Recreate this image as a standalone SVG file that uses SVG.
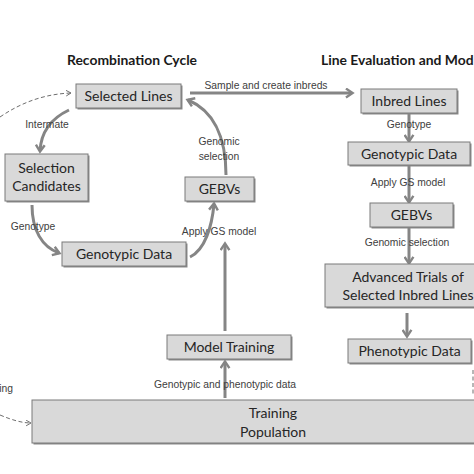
<svg xmlns="http://www.w3.org/2000/svg" width="474" height="474" viewBox="0 0 474 474">
<style>
.box{fill:#d9d9d9;stroke:#7a7a7a;stroke-width:1}
.sh{fill:#8a8a8a}
.bt{font-family:Lato,"Liberation Sans",sans-serif;font-size:14px;fill:#262626;text-anchor:middle}
.lb{font-family:"Liberation Sans",Arial,sans-serif;font-size:10.3px;fill:#404040;text-anchor:middle}
.tt{font-family:Lato,"Liberation Sans",sans-serif;font-size:13.9px;font-weight:bold;fill:#1a1a1a}
.ar{fill:none;stroke:#858585;stroke-width:3}
.da{fill:none;stroke:#6e6e6e;stroke-width:1;stroke-dasharray:4 2.5}
</style>
<defs>
<marker id="ah" viewBox="0 0 10 10" refX="7" refY="5" markerWidth="11" markerHeight="11" markerUnits="userSpaceOnUse" orient="auto">
<path d="M1.5,1 L7.5,5 L1.5,9" fill="none" stroke="#858585" stroke-width="2.2"/>
</marker>
<marker id="dh" viewBox="0 0 10 10" refX="8" refY="5" markerWidth="7" markerHeight="7" markerUnits="userSpaceOnUse" orient="auto">
<path d="M1,1 L8,5 L1,9" fill="none" stroke="#6e6e6e" stroke-width="1.4"/>
</marker>
</defs>
<rect width="474" height="474" fill="#ffffff"/>
<text class="tt" x="132" y="65" text-anchor="middle">Recombination Cycle</text>
<text class="tt" x="321" y="65" font-size="13.6">Line Evaluation and Mod</text>

<g id="connectors">
<path class="da" d="M0,117 C22,102 45,94 71,93" marker-end="url(#dh)"/>
<path class="da" d="M0,415 C12,420 22,423 31,423" marker-end="url(#dh)"/>
<path class="da" d="M473,370 L473,396"/>
<path class="ar" d="M69,110 C52,118 41,132 40,151" marker-end="url(#ah)"/>
<path class="ar" d="M32,205 C32,230 42,247 59,253" marker-end="url(#ah)"/>
<path class="ar" d="M190,257 C205,250 212,226 214,204" marker-end="url(#ah)"/>
<path class="ar" d="M226,175 C226,135 212,110 188,100" marker-end="url(#ah)"/>
<path class="ar" d="M190,93 L352,93" marker-end="url(#ah)"/>
<path class="ar" d="M225,331 L225,244" marker-end="url(#ah)"/>
<path class="ar" d="M225,398 L225,362" marker-end="url(#ah)"/>
<path class="ar" d="M409,114 L409,141" marker-end="url(#ah)"/>
<path class="ar" d="M409,166 L409,202" marker-end="url(#ah)"/>
<path class="ar" d="M409,228 L409,263" marker-end="url(#ah)"/>
<path class="ar" d="M407,313 L407,336" marker-end="url(#ah)"/>
<text class="lb" x="266" y="89">Sample and create inbreds</text>
<text class="lb" x="47" y="128">Intermate</text>
<text class="lb" x="33" y="230">Genotype</text>
<text class="lb" x="219" y="235">Apply GS model</text>
<text class="lb" x="219" y="145">Genomic</text>
<text class="lb" x="219" y="160">selection</text>
<text class="lb" x="409" y="128">Genotype</text>
<text class="lb" x="408" y="186">Apply GS model</text>
<text class="lb" x="407" y="246">Genomic selection</text>
<text class="lb" x="225" y="388">Genotypic and phenotypic data</text>
<text class="lb" x="6" y="392">ing</text>
</g>

<g id="selected-lines">
<rect class="sh" x="77.5" y="85.5" width="105" height="24"/>
<rect class="box" x="76" y="84" width="105" height="24"/>
<text class="bt" x="128.5" y="101">Selected Lines</text>
</g>
<g id="selection-candidates">
<rect class="sh" x="6.5" y="155.5" width="83" height="47"/>
<rect class="box" x="5" y="154" width="83" height="47"/>
<text class="bt" x="46.5" y="173">Selection</text>
<text class="bt" x="46.5" y="191">Candidates</text>
</g>
<g id="genotypic-data-1">
<rect class="sh" x="63.5" y="243.5" width="124" height="24"/>
<rect class="box" x="62" y="242" width="124" height="24"/>
<text class="bt" x="124" y="259">Genotypic Data</text>
</g>
<g id="gebvs-1">
<rect class="sh" x="186.5" y="178.5" width="69" height="24"/>
<rect class="box" x="185" y="177" width="69" height="24"/>
<text class="bt" x="219.5" y="194">GEBVs</text>
</g>
<g id="model-training">
<rect class="sh" x="168.5" y="336.5" width="124" height="24"/>
<rect class="box" x="167" y="335" width="124" height="24"/>
<text class="bt" x="229" y="352">Model Training</text>
</g>
<g id="training-population">
<rect class="sh" x="33.5" y="401.5" width="442" height="43"/>
<rect class="box" x="32" y="400" width="444" height="43"/>
<text class="bt" x="273" y="418">Training</text>
<text class="bt" x="273" y="437">Population</text>
</g>
<g id="inbred-lines">
<rect class="sh" x="362.5" y="90.5" width="96" height="24"/>
<rect class="box" x="361" y="89" width="96" height="24"/>
<text class="bt" x="409" y="106">Inbred Lines</text>
</g>
<g id="genotypic-data-2">
<rect class="sh" x="349.5" y="143.5" width="122" height="23"/>
<rect class="box" x="348" y="142" width="122" height="23"/>
<text class="bt" x="409" y="159">Genotypic Data</text>
</g>
<g id="gebvs-2">
<rect class="sh" x="371.5" y="204.5" width="83" height="24"/>
<rect class="box" x="370" y="203" width="83" height="24"/>
<text class="bt" x="411.5" y="220">GEBVs</text>
</g>
<g id="advanced-trials">
<rect class="sh" x="326.5" y="265.5" width="150" height="43"/>
<rect class="box" x="325" y="264" width="152" height="43"/>
<text class="bt" x="408" y="282">Advanced Trials of</text>
<text class="bt" x="408" y="300">Selected Inbred Lines</text>
</g>
<g id="phenotypic-data">
<rect class="sh" x="349.5" y="340.5" width="123" height="24"/>
<rect class="box" x="348" y="339" width="123" height="24"/>
<text class="bt" x="409.5" y="356">Phenotypic Data</text>
</g>
</svg>
